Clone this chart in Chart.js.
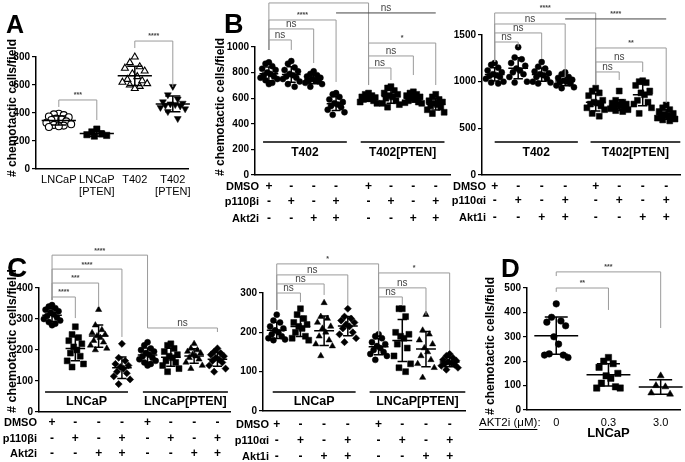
<!DOCTYPE html>
<html>
<head>
<meta charset="utf-8">
<script src="https://cdn.jsdelivr.net/npm/chart.js@4.4.0/dist/chart.umd.min.js"></script>
<style>
  body { margin: 0; background: #fff; width: 685px; height: 462px; position: relative; overflow: hidden; }
  canvas { position: absolute; }
</style>
</head>
<body>
<canvas id="panelA"></canvas>
<canvas id="panelB1"></canvas>
<canvas id="panelB2"></canvas>
<canvas id="panelC1"></canvas>
<canvas id="panelC2"></canvas>
<canvas id="panelD"></canvas>
<script>
// ---------- data ----------
// A
const catsA = [['LNCaP'], ['LNCaP', '[PTEN]'], ['T402'], ['T402', '[PTEN]']];
const yTicksA = [0, 200, 400, 600, 800];
const a_lncap = [395, 390, 385, 375, 370, 360, 355, 350, 340, 330, 320, 315, 310, 305, 300];
const a_lncapPten = [285, 265, 250, 245, 240, 235];
const a_t402 = [800, 760, 730, 720, 700, 680, 660, 640, 630, 620, 610, 600, 590, 575];
const a_t402Pten = [590, 530, 500, 480, 470, 465, 460, 455, 450, 440, 430, 410, 360];

// shared +/- table for B and C
const rowDmso = ['+', '-', '-', '-', '+', '-', '-', '-'];
const rowInh1 = ['-', '+', '-', '+', '-', '+', '-', '+'];
const rowInh2 = ['-', '-', '+', '+', '-', '-', '+', '+'];

// B left (p110b / Akt2)
const yTicksB1 = [0, 200, 400, 600, 800, 1000];
const b1 = [
  [880, 870, 850, 830, 820, 800, 790, 780, 770, 760, 750, 740, 720, 710],
  [890, 870, 840, 820, 810, 790, 780, 770, 760, 750, 730, 710, 690],
  [810, 790, 780, 770, 760, 750, 740, 735, 730, 720, 710, 690],
  [640, 630, 610, 590, 570, 560, 550, 540, 530, 510, 490, 470],
  [640, 630, 620, 610, 605, 600, 595, 590, 580, 570, 560],
  [690, 680, 660, 640, 630, 620, 610, 600, 580, 560, 550, 530],
  [650, 640, 630, 620, 610, 600, 590, 580, 570, 565, 560],
  [630, 610, 590, 580, 570, 560, 550, 540, 530, 510, 490, 480]
];
// B right (p110a / Akt1)
const yTicksB2 = [0, 500, 1000, 1500];
const b2 = [
  [1200, 1180, 1150, 1120, 1100, 1080, 1070, 1060, 1050, 1030, 1000, 990, 980],
  [1370, 1260, 1240, 1200, 1170, 1140, 1120, 1100, 1080, 1050, 1000, 990],
  [1210, 1160, 1140, 1110, 1090, 1080, 1070, 1050, 1030, 1000, 990, 980],
  [1100, 1080, 1050, 1040, 1020, 1010, 1000, 990, 980, 960, 940, 930],
  [930, 900, 880, 850, 800, 780, 770, 760, 740, 720, 700, 660, 630],
  [900, 800, 780, 770, 760, 750, 740, 730, 720, 710, 700, 690, 680],
  [1010, 1000, 990, 960, 900, 880, 860, 800, 780, 760, 720, 660],
  [750, 720, 700, 680, 660, 650, 640, 630, 620, 610, 600, 590, 580]
];
// C left
const yTicksC1 = [0, 100, 200, 300, 400];
const c1 = [
  [345, 340, 335, 330, 325, 320, 315, 310, 305, 300, 295, 290, 285, 280],
  [275, 250, 240, 230, 220, 210, 200, 190, 180, 165, 155, 145],
  [330, 280, 265, 255, 250, 245, 240, 230, 225, 215, 205, 200],
  [220, 175, 165, 155, 150, 145, 140, 130, 125, 115, 105, 90],
  [225, 215, 205, 200, 195, 190, 185, 180, 175, 170, 165, 160, 155, 150],
  [220, 215, 205, 195, 185, 180, 175, 165, 160, 150, 140, 130],
  [220, 205, 200, 195, 190, 185, 180, 175, 170, 160, 150, 140],
  [205, 195, 190, 185, 180, 175, 170, 165, 160, 150, 140, 130]
];
// C right
const yTicksC2 = [0, 100, 200, 300];
const c2 = [
  [245, 230, 225, 215, 210, 205, 200, 195, 190, 185, 182, 180],
  [260, 245, 235, 225, 220, 215, 210, 200, 190, 185, 180],
  [275, 240, 235, 225, 215, 210, 200, 190, 180, 170, 165, 140],
  [260, 240, 235, 230, 225, 220, 215, 210, 200, 195, 185, 175],
  [195, 190, 185, 175, 170, 165, 160, 155, 150, 145, 140, 130],
  [260, 260, 240, 200, 195, 190, 185, 170, 160, 140, 120, 110, 100],
  [245, 205, 195, 180, 170, 160, 150, 140, 130, 120, 110, 85],
  [145, 140, 135, 130, 128, 125, 122, 120, 118, 115, 110, 105]
];
// D
const catsD = ['0', '0.3', '3.0'];
const yTicksD = [0, 100, 200, 300, 400, 500];
const d = [
  [435, 380, 365, 360, 345, 300, 270, 230, 225, 225, 215],
  [215, 200, 190, 175, 150, 140, 130, 110, 95, 90, 90],
  [140, 100, 95, 70, 65]
];

// ---------- drawing ----------
const FONT = 'Arial, "Liberation Sans", sans-serif';
Chart.defaults.font.family = FONT;
Chart.defaults.color = '#000';

const mean = a => a.reduce((s, v) => s + v, 0) / a.length;
const sd = a => { const m = mean(a); return Math.sqrt(a.reduce((s, v) => s + (v - m) * (v - m), 0) / (a.length - 1)); };
const jit = [0, -1, 1, -2, 2, -0.5, 0.5, -1.5, 1.5, -2.5, 2.5, -1, 1, 0, -2];

const dot = r => ({ shape: 'circle', r });
const sq = r => ({ shape: 'rect', r });
const tri = r => ({ shape: 'triangle', r });
const dia = r => ({ shape: 'rectRot', r });

function drawOverlay(chart, p) {
  const ctx = chart.ctx, xs = chart.scales.x, ys = chart.scales.y, area = chart.chartArea;
  const cx = i => xs.getPixelForValue(p.slots[i]);
  const step = xs.getPixelForValue(1) - xs.getPixelForValue(0);
  const ox = p.box[0], oy = p.box[1];
  ctx.save();

  // mean +/- SD
  ctx.strokeStyle = '#000';
  ctx.lineWidth = 1.5;
  p.groups.forEach((vals, i) => {
    const m = mean(vals), s = sd(vals), x = cx(i);
    const ym = ys.getPixelForValue(m), y1 = ys.getPixelForValue(m + s), y2 = ys.getPixelForValue(m - s);
    ctx.beginPath();
    ctx.moveTo(x - p.meanW * step, ym); ctx.lineTo(x + p.meanW * step, ym);
    ctx.moveTo(x, y1); ctx.lineTo(x, y2);
    ctx.moveTo(x - p.capW * step, y1); ctx.lineTo(x + p.capW * step, y1);
    ctx.moveTo(x - p.capW * step, y2); ctx.lineTo(x + p.capW * step, y2);
    ctx.stroke();
  });

  // significance brackets
  ctx.lineWidth = 1;
  ctx.textAlign = 'center';
  ctx.textBaseline = 'bottom';
  (p.brackets || []).forEach(b => {
    const x1 = cx(b.a), x2 = cx(b.b), y = ys.getPixelForValue(b.y);
    ctx.strokeStyle = b.dark ? '#444' : '#9a9a9a';
    ctx.beginPath();
    ctx.moveTo(x1, ys.getPixelForValue(b.la ?? b.y));
    ctx.lineTo(x1, y);
    ctx.lineTo(x2, y);
    ctx.lineTo(x2, ys.getPixelForValue(b.lb ?? b.y));
    ctx.stroke();
    const ns = b.t === 'ns';
    ctx.fillStyle = '#444';
    ctx.font = (ns ? '10px ' : 'bold 7px ') + FONT;
    ctx.fillText(b.t, (x1 + x2) / 2, y - (ns ? 0 : 1));
  });

  // group lines under the points
  ctx.strokeStyle = '#000';
  ctx.fillStyle = '#000';
  ctx.lineWidth = 1.5;
  ctx.textBaseline = 'middle';
  (p.grp || []).forEach(g => {
    const yl = area.bottom - p.grpLineDy;
    ctx.beginPath();
    ctx.moveTo(xs.getPixelForValue(g.from), yl);
    ctx.lineTo(xs.getPixelForValue(g.to), yl);
    ctx.stroke();
    ctx.font = 'bold ' + p.grpFont + 'px ' + FONT;
    ctx.fillText(g.label, (xs.getPixelForValue(g.from) + xs.getPixelForValue(g.to)) / 2, area.bottom - p.grpLabelDy);
  });

  // +/- table
  if (p.rows) {
    p.rows.forEach((row, r) => {
      const y = area.bottom + p.rowDy[r];
      ctx.font = 'bold 11px ' + FONT;
      ctx.textAlign = 'right';
      ctx.fillText(row.name, p.rowLabelX - ox, y);
      ctx.textAlign = 'center';
      ctx.font = 'bold 12px ' + FONT;
      row.marks.forEach((m, i) => ctx.fillText(m, cx(i), y));
    });
  }

  // category labels
  if (p.cats) {
    ctx.textAlign = 'center';
    ctx.font = p.catFont + 'px ' + FONT;
    p.cats.forEach((lines, i) => {
      [].concat(lines).forEach((t, k) => ctx.fillText(t, cx(i), area.bottom + p.catDy + k * 12));
    });
  }

  // panel letter
  if (p.letter) {
    ctx.textAlign = 'left';
    ctx.textBaseline = 'alphabetic';
    ctx.font = 'bold ' + p.letter.size + 'px ' + FONT;
    ctx.fillText(p.letter.t, p.letter.x - ox, p.letter.y - oy);
  }

  // y title
  if (p.yTitle) {
    ctx.save();
    ctx.translate(p.yTitle.x - ox, p.yTitle.y - oy);
    ctx.rotate(-Math.PI / 2);
    ctx.textAlign = 'center';
    ctx.textBaseline = 'middle';
    ctx.font = 'bold ' + p.yTitle.size + 'px ' + FONT;
    ctx.fillText('# chemotactic cells/field', 0, 0);
    ctx.restore();
  }

  if (p.extra) p.extra(ctx, area, cx, ox, oy);
  ctx.restore();
}

function makePanel(id, p) {
  const el = document.getElementById(id);
  const [bx, by, bw, bh] = p.box;
  const [pl, pt, pr, pb] = p.plot;
  el.style.left = bx + 'px';
  el.style.top = by + 'px';
  el.style.width = bw + 'px';
  el.style.height = bh + 'px';
  el.width = bw;
  el.height = bh;

  const datasets = p.groups.map((vals, i) => {
    const st = p.styles[i];
    return {
      data: vals.map((v, j) => ({ x: p.slots[i] + jit[j % jit.length] * p.spread, y: v })),
      pointStyle: st.shape,
      rotation: st.rot || 0,
      pointRadius: st.r,
      backgroundColor: st.open ? '#fff' : '#000',
      borderColor: '#000',
      borderWidth: st.open ? 1.1 : 0.5
    };
  });

  new Chart(el, {
    type: 'scatter',
    data: { datasets },
    options: {
      responsive: false,
      animation: false,
      devicePixelRatio: 1,
      clip: false,
      layout: { padding: { left: 0, top: pt - by, right: bx + bw - pr, bottom: by + bh - pb } },
      plugins: { legend: { display: false }, tooltip: { enabled: false } },
      scales: {
        x: {
          type: 'linear', min: p.xMin, max: p.xMax,
          ticks: { display: false },
          grid: { display: false },
          border: { color: '#000', width: 1.5 },
          afterFit: s => { s.height = 0; }
        },
        y: {
          min: p.yTicks[0], max: p.yTicks[p.yTicks.length - 1],
          afterBuildTicks: s => { s.ticks = p.yTicks.map(v => ({ value: v })); },
          afterFit: s => { s.width = pl - bx; },
          ticks: { color: '#000', padding: 2, font: { size: 10, weight: 'bold' }, callback: v => String(v) },
          grid: { drawOnChartArea: false, tickLength: 4, color: '#000', lineWidth: 1.2 },
          border: { color: '#000', width: 1.5 }
        }
      }
    },
    plugins: [{ id: 'overlay', afterDatasetsDraw(chart) { drawOverlay(chart, p); } }]
  });
}

const rowsB = inh => [
  { name: 'DMSO', marks: rowDmso },
  { name: inh[0], marks: rowInh1 },
  { name: inh[1], marks: rowInh2 }
];

// Panel A
makePanel('panelA', {
  box: [0, 0, 215, 200], plot: [36, 57, 188, 169],
  slots: [0, 1, 2, 3], xMin: -0.6, xMax: 3.4, yTicks: yTicksA,
  groups: [a_lncap, a_lncapPten, a_t402, a_t402Pten],
  styles: [
    { shape: 'circle', r: 3.5, open: true },
    sq(4.5),
    { shape: 'triangle', r: 4, open: true },
    { shape: 'triangle', r: 4, rot: 180 }
  ],
  spread: 0.13, meanW: 0.45, capW: 0.2,
  brackets: [
    { a: 0, b: 1, y: 493, la: 443, lb: 350, t: '***' },
    { a: 2, b: 3, y: 914, la: 864, lb: 586, t: '****' }
  ],
  cats: catsA, catFont: 11, catDy: 11,
  letter: { t: 'A', x: 6, y: 33, size: 25 },
  yTitle: { x: 13, y: 108, size: 12 }
});

// Panel B left
makePanel('panelB1', {
  box: [215, 0, 240, 232], plot: [255, 47, 453, 175],
  slots: [0, 1, 2, 3, 4.45, 5.45, 6.45, 7.45], xMin: -0.62, xMax: 8.1, yTicks: yTicksB1,
  groups: b1,
  styles: [dot(3), dot(3), dot(3), dot(3), sq(4.2), sq(4.2), sq(4.2), sq(4.2)],
  spread: 0.15, meanW: 0.42, capW: 0.2,
  brackets: [
    { a: 0, b: 4, y: 1344, la: 977, lb: 703, t: '****' },
    { a: 3, b: 7, y: 1266, t: 'ns', dark: true },
    { a: 0, b: 3, y: 1211, la: 977, lb: 727, t: '****' },
    { a: 0, b: 2, y: 1141, la: 977, lb: 875, t: 'ns' },
    { a: 0, b: 1, y: 1055, la: 977, lb: 977, t: 'ns' },
    { a: 4, b: 7, y: 1031, la: 703, lb: 703, t: '*' },
    { a: 4, b: 6, y: 930, la: 703, lb: 781, t: 'ns' },
    { a: 4, b: 5, y: 836, la: 703, lb: 742, t: 'ns' }
  ],
  grp: [{ from: -0.26, to: 3.48, label: 'T402' }, { from: 4.1, to: 7.84, label: 'T402[PTEN]' }],
  grpLineDy: 33, grpLabelDy: 22, grpFont: 12,
  rows: rowsB(['p110βi', 'Akt2i']), rowDy: [12, 27, 44], rowLabelX: 259,
  letter: { t: 'B', x: 224, y: 33, size: 27 },
  yTitle: { x: 221, y: 107, size: 12 }
});

// Panel B right
makePanel('panelB2', {
  box: [440, 0, 245, 232], plot: [482, 35, 685, 175],
  slots: [0, 1, 2, 3, 4.3, 5.3, 6.3, 7.3], xMin: -0.54, xMax: 7.9, yTicks: yTicksB2,
  groups: b2,
  styles: [dot(3), dot(3), dot(3), dot(3), sq(4.2), sq(4.2), sq(4.2), sq(4.2)],
  spread: 0.15, meanW: 0.42, capW: 0.2,
  brackets: [
    { a: 0, b: 4, y: 1736, la: 1211, lb: 965, t: '****' },
    { a: 3, b: 7, y: 1672, t: '****', dark: true },
    { a: 0, b: 3, y: 1618, la: 1211, lb: 1050, t: 'ns' },
    { a: 0, b: 2, y: 1522, la: 1211, lb: 1243, t: 'ns' },
    { a: 0, b: 1, y: 1425, la: 1211, lb: 1372, t: 'ns' },
    { a: 4, b: 7, y: 1361, la: 965, lb: 772, t: '**' },
    { a: 4, b: 6, y: 1211, la: 965, lb: 1104, t: 'ns' },
    { a: 4, b: 5, y: 1104, la: 965, lb: 1018, t: 'ns' }
  ],
  grp: [{ from: 0, to: 3.54, label: 'T402' }, { from: 4.08, to: 7.9, label: 'T402[PTEN]' }],
  grpLineDy: 33, grpLabelDy: 22, grpFont: 12,
  rows: rowsB(['p110αi', 'Akt1i']), rowDy: [12, 26, 43], rowLabelX: 486
});

// Panel C left
makePanel('panelC1', {
  box: [0, 240, 235, 222], plot: [39, 288, 230, 412],
  slots: [0, 1, 2, 3, 4.1, 5.1, 6.1, 7.1], xMin: -0.56, xMax: 7.64, yTicks: yTicksC1,
  groups: c1,
  styles: [dot(3), sq(4.2), tri(3.6), dia(3.6), dot(3), sq(4.2), tri(3.6), dia(3.6)],
  spread: 0.14, meanW: 0.42, capW: 0.2,
  brackets: [
    { a: 0, b: 4, y: 506, la: 361, lb: 271, t: '****' },
    { a: 4, b: 7, y: 271, lb: 258, t: 'ns' },
    { a: 0, b: 3, y: 461, la: 361, lb: 242, t: '****' },
    { a: 0, b: 2, y: 416, la: 361, lb: 339, t: '***' },
    { a: 0, b: 1, y: 371, la: 361, lb: 303, t: '****' }
  ],
  grp: [{ from: -0.3, to: 3.26, label: 'LNCaP' }, { from: 3.9, to: 7.55, label: 'LNCaP[PTEN]' }],
  grpLineDy: 20, grpLabelDy: 10, grpFont: 12.5,
  rows: rowsB(['p110βi', 'Akt2i']), rowDy: [11, 27, 42], rowLabelX: 37,
  letter: { t: 'C', x: 7, y: 277, size: 28 },
  yTitle: { x: 13, y: 341, size: 12.5 }
});

// Panel C right
makePanel('panelC2', {
  box: [225, 240, 245, 222], plot: [263, 293, 468, 411],
  slots: [0, 1, 2, 3, 4.3, 5.3, 6.3, 7.3], xMin: -0.58, xMax: 7.96, yTicks: yTicksC2,
  groups: c2,
  styles: [dot(3), sq(4.2), tri(3.6), dia(3.6), dot(3), sq(4.2), tri(3.6), dia(3.6)],
  spread: 0.14, meanW: 0.42, capW: 0.2,
  brackets: [
    { a: 0, b: 4, y: 374, la: 257, lb: 193, t: '*' },
    { a: 4, b: 7, y: 351, la: 193, lb: 155, t: '*' },
    { a: 0, b: 3, y: 346, la: 257, lb: 270, t: 'ns' },
    { a: 0, b: 2, y: 323, la: 257, lb: 295, t: 'ns' },
    { a: 0, b: 1, y: 300, la: 257, lb: 277, t: 'ns' },
    { a: 4, b: 6, y: 313, la: 193, lb: 244, t: 'ns' },
    { a: 4, b: 5, y: 290, la: 193, lb: 270, t: 'ns' }
  ],
  grp: [{ from: -0.17, to: 3.33, label: 'LNCaP' }, { from: 3.92, to: 7.96, label: 'LNCaP[PTEN]' }],
  grpLineDy: 19, grpLabelDy: 9, grpFont: 12.5,
  rows: rowsB(['p110αi', 'Akt1i']), rowDy: [14, 30, 46], rowLabelX: 269
});

// Panel D
makePanel('panelD', {
  box: [470, 240, 215, 222], plot: [527, 288, 685, 410],
  slots: [0, 1, 2], xMin: -0.56, xMax: 2.37, yTicks: yTicksD,
  groups: d,
  styles: [dot(3.3), sq(4.5), tri(4)],
  spread: 0.09, meanW: 0.42, capW: 0.22,
  brackets: [
    { a: 0, b: 2, y: 566, la: 549, lb: 336, t: '***' },
    { a: 0, b: 1, y: 500, la: 484, lb: 410, t: '**' }
  ],
  cats: catsD, catFont: 11, catDy: 13,
  letter: { t: 'D', x: 501, y: 277, size: 26 },
  yTitle: { x: 491, y: 346, size: 12 },
  extra: (ctx, area, cx, ox, oy) => {
    ctx.textAlign = 'left';
    ctx.textBaseline = 'middle';
    ctx.font = '11.5px ' + FONT;
    const lbl = 'AKT2i (μM):';
    const x0 = 479 - ox, y0 = area.bottom + 13;
    ctx.fillText(lbl, x0, y0);
    const w = ctx.measureText(lbl.slice(0, -1)).width;
    ctx.lineWidth = 1;
    ctx.beginPath();
    ctx.moveTo(x0, y0 + 6.5); ctx.lineTo(x0 + w, y0 + 6.5);
    ctx.stroke();
    ctx.textAlign = 'center';
    ctx.font = 'bold 13px ' + FONT;
    ctx.fillText('LNCaP', cx(1), area.bottom + 23);
  }
});
</script>
</body>
</html>
